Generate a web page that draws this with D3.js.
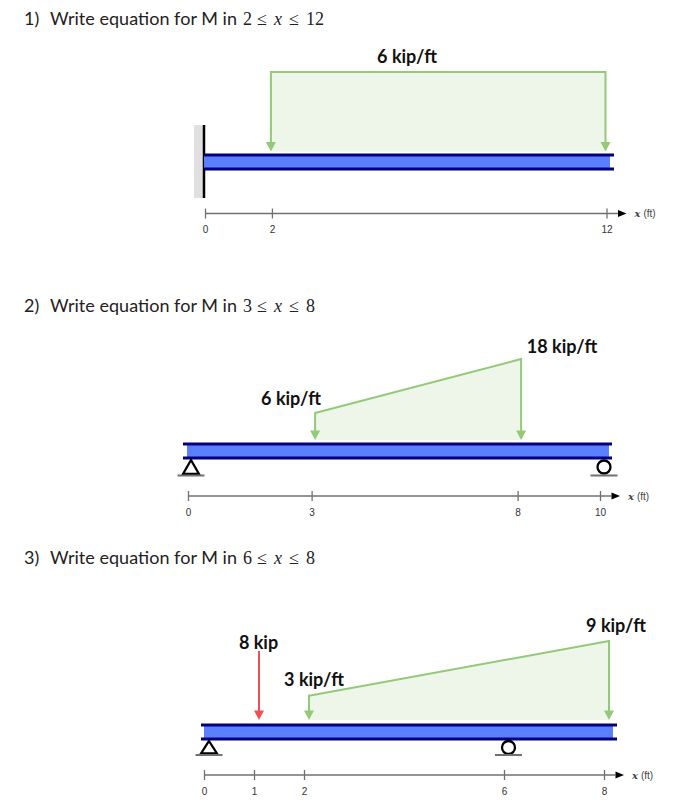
<!DOCTYPE html>
<html>
<head>
<meta charset="utf-8">
<script src="https://cdn.jsdelivr.net/npm/d3@7"></script>
<style>
  html, body { margin: 0; padding: 0; background: #fff; }
  svg { display: block; }
  .title { font-family: Lato, sans-serif; font-size: 18px; font-weight: 400; fill: #222; }
  .math { font-family: "Liberation Serif", serif; font-size: 18px; fill: #222; }
  .loadLabel { font-family: Lato, sans-serif; font-weight: 700; font-size: 18px; fill: #111; }
  .tick text { font-family: "Liberation Sans", Arial, sans-serif; font-size: 10px; fill: #333; }
  .axisName { font-family: "Liberation Sans", Arial, sans-serif; font-size: 10px; fill: #444; }
</style>
</head>
<body>
<div id="chart"></div>
<script>
var w = 699;
var h = 810;

// problem text
var titleNumber = ["1)", "2)", "3)"];
var titleText = "Write equation for M in";
var titleRange = [[2, 12], [3, 8], [6, 8]];

// x positions in ft
var ticks1 = [0, 2, 12];
var ticks2 = [0, 3, 8, 10];
var ticks3 = [0, 1, 2, 6, 8];

// distributed loads, kip/ft
var loadX1 = [2, 12];
var loadW1 = [6, 6];
var loadX2 = [3, 8];
var loadW2 = [6, 18];
var loadX3 = [2, 8];
var loadW3 = [3, 9];

// point load in problem 3
var pointX3 = 1;
var pointP3 = 8;

var green = "#93c977";
var greenFill = "#eef6e9";
var red = "#ef5055";
var navy = "#00007f";
var blue = "#5a7fff";
var grey = "#707070";

var svg = d3.select("#chart").append("svg")
  .attr("width", w)
  .attr("height", h);

function arrowHead(x, tip, color) {
  var p = d3.path();
  p.moveTo(x - 5, tip - 9.5);
  p.lineTo(x + 5, tip - 9.5);
  p.lineTo(x, tip);
  p.closePath();
  svg.append("path").attr("d", p.toString()).attr("fill", color);
}

function drawTitle(i, y) {
  svg.append("text").attr("class", "title").attr("x", 24).attr("y", y).text(titleNumber[i]);
  svg.append("text").attr("class", "title").attr("x", 50).attr("y", y)
    .attr("textLength", 187)
    .text(titleText);
  var xs = [243, 257, 274, 289, 306];
  var t = [titleRange[i][0], "≤", "x", "≤", titleRange[i][1]];
  t.forEach(function(s, k) {
    svg.append("text").attr("class", "math").attr("x", xs[k]).attr("y", y)
      .style("font-style", s == "x" ? "italic" : "normal")
      .text(s);
  });
}

function drawDiagram(c) {
  var xScale = d3.scaleLinear().domain(c.domain).range(c.range);
  var loadScale = d3.scaleLinear().domain([0, d3.max(c.loadW)]).range([c.loadBase, c.loadTop]);
  var lx = function(d) { return xScale(d) + c.loadShift; };

  // load block
  var pts = c.loadX.map(function(d, i) { return { x: d, w: c.loadW[i] }; });
  var area = d3.area()
    .x(function(d) { return lx(d.x); })
    .y0(c.tip)
    .y1(function(d) { return loadScale(d.w); });
  var line = d3.line()
    .x(function(d) { return lx(d.x); })
    .y(function(d) { return loadScale(d.w); });
  svg.append("path").datum(pts).attr("d", area).attr("fill", greenFill);
  svg.append("path").datum(pts).attr("d", line).attr("fill", "none").attr("stroke", green).attr("stroke-width", 2);
  pts.forEach(function(d) {
    svg.append("line")
      .attr("x1", lx(d.x)).attr("x2", lx(d.x))
      .attr("y1", loadScale(d.w) - 1).attr("y2", c.tip - 8)
      .attr("stroke", green).attr("stroke-width", 2);
    arrowHead(lx(d.x), c.tip, green);
  });

  // beam
  svg.append("rect")
    .attr("x", c.fillX[0]).attr("width", c.fillX[1] - c.fillX[0])
    .attr("y", c.beamY[0]).attr("height", c.beamY[1] - c.beamY[0])
    .attr("fill", blue);
  c.beamY.forEach(function(y) {
    svg.append("line")
      .attr("x1", c.beamX[0]).attr("x2", c.beamX[1])
      .attr("y1", y).attr("y2", y)
      .attr("stroke", navy).attr("stroke-width", 3);
  });

  // axis
  var xAxis = d3.axisBottom(xScale)
    .tickValues(c.ticks)
    .tickFormat(d3.format("d"))
    .tickSizeInner(5)
    .tickSizeOuter(0)
    .tickPadding(7.5);
  var g = svg.append("g")
    .attr("transform", "translate(0," + c.axisY + ")")
    .call(xAxis);
  g.select(".domain").remove();
  g.selectAll(".tick line").attr("y1", -5).attr("stroke", grey).attr("stroke-width", 1.3);
  g.selectAll(".tick text").attr("fill", "#333");

  var end = c.range[1] + 11.5;
  svg.append("line")
    .attr("x1", c.range[0]).attr("x2", end)
    .attr("y1", c.axisY).attr("y2", c.axisY)
    .attr("stroke", grey).attr("stroke-width", 1.3);
  svg.append("path")
    .attr("d", "M" + end + "," + (c.axisY - 3.5) + "L" + (end + 8.5) + "," + c.axisY + "L" + end + "," + (c.axisY + 3.5) + "Z")
    .attr("fill", "#000");
  var name = svg.append("text").attr("class", "axisName").attr("x", end + 16.5).attr("y", c.axisY + 3.5);
  name.append("tspan").style("font-family", "'DejaVu Serif', serif").style("font-style", "italic").style("font-weight", "700").text("x");
  name.append("tspan").attr("dx", 3).text("(ft)");

  // load labels
  c.labels.forEach(function(l) {
    svg.append("text").attr("class", "loadLabel")
      .attr("x", l.x).attr("y", l.y)
      .attr("text-anchor", "middle")
      .text(l.text);
  });
}

function pinSupport(x, top, bottom) {
  svg.append("path")
    .attr("d", "M" + x + "," + top + "L" + (x + 8) + "," + (bottom - 1.5) + "L" + (x - 8) + "," + (bottom - 1.5) + "Z")
    .attr("fill", "#fff").attr("stroke", "#000").attr("stroke-width", 2.3);
  ground(x - 13.5, x + 13.5, bottom);
}

function rollerSupport(x, cy, bottom) {
  svg.append("circle").attr("cx", x).attr("cy", cy).attr("r", 6.5)
    .attr("fill", "#fff").attr("stroke", "#000").attr("stroke-width", 2.3);
  ground(x - 13.5, x + 13.5, bottom);
}

function ground(x1, x2, y) {
  svg.append("line").attr("x1", x1).attr("x2", x2).attr("y1", y).attr("y2", y)
    .attr("stroke", grey).attr("stroke-width", 2);
}

// problem 1
drawTitle(0, 25);
svg.append("rect").attr("x", 194).attr("y", 125).attr("width", 10).attr("height", 73).attr("fill", "#e0e0e0");
svg.append("line").attr("x1", 204).attr("x2", 204).attr("y1", 125).attr("y2", 198).attr("stroke", "#000").attr("stroke-width", 2.5);
drawDiagram({
  domain: [0, 12], range: [205, 606.5], ticks: ticks1, axisY: 213.5,
  loadX: loadX1, loadW: loadW1, loadBase: 152, loadTop: 72, tip: 151.5, loadShift: -1,
  beamX: [204, 614], fillX: [204, 610], beamY: [155, 169],
  labels: [{ text: "6 kip/ft", x: 407, y: 63 }]
});

// problem 2
drawTitle(1, 312);
drawDiagram({
  domain: [0, 10], range: [188, 600], ticks: ticks2, axisY: 496,
  loadX: loadX2, loadW: loadW2, loadBase: 440, loadTop: 359, tip: 440, loadShift: 3.5,
  beamX: [183, 612], fillX: [187, 609], beamY: [444, 458],
  labels: [{ text: "6 kip/ft", x: 291, y: 405 }, { text: "18 kip/ft", x: 562, y: 353 }]
});
pinSupport(191, 460, 475.5);
rollerSupport(604, 467, 475.5);

// problem 3
drawTitle(2, 564);
var x3 = d3.scaleLinear().domain([0, 8]).range([204, 604]);
svg.append("line")
  .attr("x1", x3(pointX3) + 5).attr("x2", x3(pointX3) + 5)
  .attr("y1", 651).attr("y2", 712)
  .attr("stroke", red).attr("stroke-width", 2);
arrowHead(x3(pointX3) + 5, 720, red);
drawDiagram({
  domain: [0, 8], range: [204, 604], ticks: ticks3, axisY: 775,
  loadX: loadX3, loadW: loadW3, loadBase: 723, loadTop: 641, tip: 720, loadShift: 5,
  beamX: [201, 617], fillX: [204, 613], beamY: [725, 739],
  labels: [
    { text: pointP3 + " kip", x: 258.5, y: 649 },
    { text: "3 kip/ft", x: 314, y: 686 },
    { text: "9 kip/ft", x: 616, y: 632 }
  ]
});
pinSupport(209, 741, 755);
rollerSupport(508.5, 747.5, 755);
</script>
</body>
</html>
